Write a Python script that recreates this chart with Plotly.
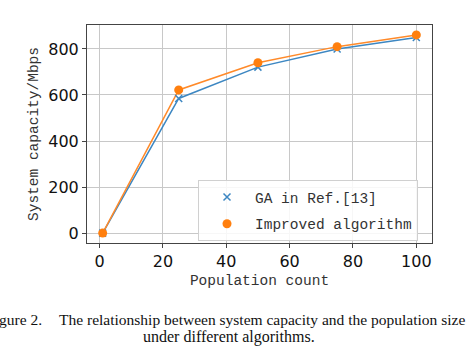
import plotly.graph_objects as go

population = [1, 25, 50, 75, 100]
ga_ref13 = [0, 585, 721, 800, 850]
improved = [0, 622, 740, 810, 861]
x_ticks = [0, 20, 40, 60, 80, 100]
y_ticks = [0, 200, 400, 600, 800]

mono = "Liberation Mono"
serif = "Liberation Serif"
blue = "#3d87c2"
orange = "#ff7f0e"

fig = go.Figure()
# lines (no legend)
fig.add_trace(go.Scatter(x=population, y=ga_ref13, mode="lines", showlegend=False,
                         line=dict(color=blue, width=1.5), hoverinfo="skip"))
fig.add_trace(go.Scatter(x=population, y=improved, mode="lines", showlegend=False,
                         line=dict(color="#ff8a2a", width=1.5), hoverinfo="skip"))
# markers (legend)
fig.add_trace(go.Scatter(
    x=population, y=ga_ref13, mode="markers", name="GA in Ref.[13]", legendgroup="a",
    marker=dict(symbol="x-thin", size=7, line=dict(color=blue, width=1.5)),
))
fig.add_trace(go.Scatter(
    x=population, y=improved, mode="markers", name="Improved algorithm", legendgroup="b",
    marker=dict(symbol="circle", size=9, color=orange),
))

axis_common = dict(
    showgrid=True, gridcolor="#c8c8c8", gridwidth=1,
    showline=True, linecolor="#444444", linewidth=1, mirror=True,
    ticks="outside", ticklen=4, tickcolor="#444444",
    tickfont=dict(family="DejaVu Sans", size=16, color="#111111"),
    zeroline=False,
)
fig.update_xaxes(range=[-3.95, 104.95], tickvals=x_ticks,
                 title=dict(text="Population count", font=dict(family=mono, size=14.5, color="#333333"), standoff=4),
                 **axis_common)
fig.update_yaxes(range=[-43, 904], tickvals=y_ticks,
                 title=dict(text="System capacity/Mbps", font=dict(family=mono, size=14.5, color="#333333"), standoff=6),
                 **axis_common)

L, R, T, B = 87, 42, 25, 103
W, H = 474, 346
pw, ph = W - L - R, H - T - B


def px(x):
    return (x - L) / pw


def py(y):
    return (H - B - y) / ph


fig.update_layout(
    width=W, height=H,
    margin=dict(l=L, r=R, t=T, b=B),
    paper_bgcolor="white", plot_bgcolor="white",
    legend=dict(x=px(198), y=py(180), xanchor="left", yanchor="top",
                bgcolor="rgba(255,255,255,0.85)", bordercolor="#d0d0d0", borderwidth=1,
                font=dict(family=mono, size=14.5, color="#333333"), itemwidth=46,
                tracegroupgap=5),
    showlegend=True,
)

cap = dict(family=serif, size=15.5, color="#111111")
fig.add_annotation(x=px(44), y=py(319), xref="paper", yref="paper", text="gure 2.",
                   showarrow=False, xanchor="right", yanchor="middle", font=cap)
fig.add_annotation(x=px(57), y=py(319), xref="paper", yref="paper",
                   text="The relationship between system capacity and the population size",
                   showarrow=False, xanchor="left", yanchor="middle", font=cap)
fig.add_annotation(x=px(229), y=py(337), xref="paper", yref="paper",
                   text="under different algorithms.",
                   showarrow=False, xanchor="center", yanchor="middle", font=dict(family=serif, size=16, color="#111111"))
fig.write_html("out.html")
